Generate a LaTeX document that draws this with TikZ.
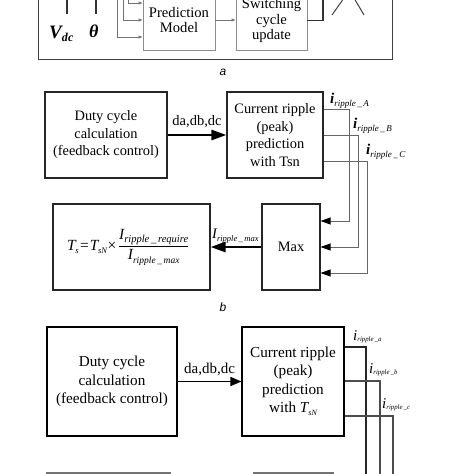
\documentclass[tikz,border=0pt]{standalone}
\usepackage{fontspec}
\setmainfont{Liberation Serif}
\newfontfamily\sflab{Liberation Sans}
\usetikzlibrary{arrows.meta,calc}
\newcommand{\iripB}[1]{{\bfseries\itshape i}\raisebox{-0.45ex}{\fontsize{9}{9}\selectfont\itshape ripple\,\_\,#1}}
\newcommand{\iripC}[1]{{\itshape i}\raisebox{-0.25ex}{\fontsize{6.8}{7}\selectfont\itshape ripple\,\_#1}}
\newcommand{\Irip}[2]{{\itshape I}\raisebox{-0.5ex}{\fontsize{#2}{#2}\selectfont\itshape ripple\,\_\,#1}}
\begin{document}
\begin{tikzpicture}[x=1pt,y=-1pt,
  boxa/.style={draw=black!45,line width=0.9pt,inner sep=0pt,align=center,font=\fontsize{14.6}{15.5}\selectfont},
  boxb/.style={draw=black!85,line width=1.1pt,inner sep=0pt,align=center,font=\fontsize{14.4}{17.5}\selectfont},
  boxc/.style={draw=black,line width=1.1pt,inner sep=0pt,align=center,font=\fontsize{15.2}{18.3}\selectfont},
  boxd/.style={draw=black!55,line width=1.4pt,inner sep=0pt},
  linea/.style={draw=black!55,line width=0.9pt},
  lineadark/.style={draw=black!80,line width=1.2pt},
  arra/.style={linea,-{Triangle[length=4pt,width=3pt]}},
  sigb/.style={draw=black!60,line width=0.9pt},
  arrb/.style={sigb,-{Triangle[length=10pt,width=7pt,color=black]}},
  thickb/.style={draw=black,line width=2.6pt,-{Triangle[length=15pt,width=10pt]}},
  sigc/.style={draw=black!85,line width=1.1pt},
  arrc/.style={draw=black,line width=1.6pt,-{Triangle[length=11pt,width=9pt]}},
  lbl/.style={inner sep=0pt,font=\fontsize{14.5}{16}\selectfont},
  figcap/.style={inner sep=0pt,font=\sflab\itshape\fontsize{12}{14}\selectfont}
]
\useasboundingbox (0,0) rectangle (474,474);
\clip (0,0) rectangle (474,474);

% ---------- part a ----------
\node[draw=black!75,line width=1pt,minimum width=354,minimum height=69,inner sep=0pt] (outa) at (215,24.5) {};
\node[boxa,minimum width=72,minimum height=60] (pm) at (179,20) {Prediction\\Model};
\node[boxa,minimum width=71,minimum height=60] (scu) at (271.5,20.5) {Switching\\cycle\\update};
\draw[arra] (pm.east) -- (scu.west |- pm.east);
\coordinate (so) at (323,-10);
\draw[lineadark] (scu.east) -| (so);
\coordinate (ia) at (117,-10);
\coordinate (ib) at (123,-10);
\coordinate (ic) at (128,-10);
\draw[arra] (ia) |- (pm.west |- 0,37);
\draw[arra] (ib) |- (pm.west |- 0,20);
\draw[arra] (ic) |- (pm.west |- 0,3);
\coordinate (va) at (67,-10);
\coordinate (vb) at (67,14);
\coordinate (ta) at (96,-10);
\coordinate (tb) at (96,14);
\draw[lineadark] (va) -- (vb);
\draw[lineadark] (ta) -- (tb);
\node[inner sep=0pt,anchor=base west] (vdc) at (49,38) {\fontsize{19}{20}\selectfont\bfseries\itshape V\raisebox{-0.35ex}{\fontsize{12}{12}\selectfont d\kern0.3pt c}};
\node[inner sep=0pt,anchor=base west] (th) at (89,37) {\fontsize{18}{20}\selectfont\bfseries\itshape θ};
\coordinate (l1) at (332,15);
\coordinate (l2) at (344,-2);
\coordinate (r1) at (354,-2);
\coordinate (r2) at (364,15);
\draw[black!75,line width=1pt] (l1) -- (l2);
\draw[black!75,line width=1pt] (r1) -- (r2);
\node[figcap] (capa) at (223,72) {a};

% ---------- part b ----------
\node[boxb,minimum width=122,minimum height=86] (dcb) at (106,135) {Duty cycle\\calculation\\(feedback control)};
\node[boxb,minimum width=96,minimum height=86] (crb) at (275,135) {Current ripple\\(peak)\\prediction\\with Tsn};
\node[boxb,minimum width=157,minimum height=86] (fb) at (131.5,247) {};
\node[boxb,minimum width=58,minimum height=86] (maxb) at (291,247) {Max};
\draw[thickb] (dcb.east) -- (crb.west);
\node[lbl] (ddb) at (197,122) {da,db,dc};
\coordinate (bA) at (349,221);
\coordinate (bB) at (358,247);
\coordinate (bC) at (367,273);
\draw[arrb] (crb.east |- 0,109) -| (bA) -- (maxb.east |- bA);
\draw[arrb] (crb.east |- 0,135) -| (bB) -- (maxb.east |- bB);
\draw[arrb] (crb.east |- 0,161) -| (bC) -- (maxb.east |- bC);
\node[inner sep=0pt,anchor=base west,font=\fontsize{15}{16}\selectfont] (lbA) at (330,103) {\iripB{A}};
\node[inner sep=0pt,anchor=base west,font=\fontsize{15}{16}\selectfont] (lbB) at (353,128) {\iripB{B}};
\node[inner sep=0pt,anchor=base west,font=\fontsize{15}{16}\selectfont] (lbC) at (366,154) {\iripB{C}};
\draw[thickb] (maxb.west) -- (fb.east);
\node[inner sep=0pt,anchor=base west,font=\fontsize{14.5}{16}\selectfont] (lmax) at (212,238) {\Irip{max}{8.5}};
\node[inner sep=0pt,anchor=base west,font=\fontsize{15.5}{17}\selectfont] (fml) at (67,250)
  {\itshape T\kern-0.5pt\raisebox{-0.5ex}{\fontsize{8.5}{9}\selectfont s}\kern1.5pt{\upshape =}\kern1pt T\kern-0.3pt\raisebox{-0.5ex}{\fontsize{8.5}{9}\selectfont sN}\kern0.5pt{\upshape ×}\kern1.5pt
   $\displaystyle\frac{\hbox{\fontsize{15.5}{17}\selectfont\Irip{require}{10.5}}}{\hbox{\fontsize{15.5}{17}\selectfont\Irip{max}{9.5}}}$};
\node[figcap] (capb) at (223,307) {b};

% ---------- part c ----------
\node[boxc,minimum width=130,minimum height=109] (dcc) at (112,381.5) {Duty cycle\\calculation\\(feedback control)};
\node[boxc,minimum width=102,minimum height=109] (crc) at (293,381.5) {Current ripple\\(peak)\\prediction\\with {\itshape T\raisebox{-0.5ex}{\fontsize{8}{8}\selectfont sN}}};
\draw[arrc] (dcc.east) -- (crc.west);
\node[lbl,font=\fontsize{15}{16}\selectfont] (ddc) at (209.5,369) {da,db,dc};
\coordinate (ca) at (366,480);
\coordinate (cb) at (380,480);
\coordinate (cc) at (393,480);
\draw[sigc] (crc.east |- 0,347) -| (ca);
\draw[sigc,draw=black!70] (crc.east |- 0,381) -| (cb);
\draw[sigc,draw=black!70] (crc.east |- 0,416) -| (cc);
\node[inner sep=0pt,anchor=base west,font=\fontsize{15}{16}\selectfont] (lca) at (353,340) {\iripC{a}};
\node[inner sep=0pt,anchor=base west,font=\fontsize{15}{16}\selectfont] (lcb) at (369,373) {\iripC{b}};
\node[inner sep=0pt,anchor=base west,font=\fontsize{15}{16}\selectfont] (lcc) at (382,408) {\iripC{c}};
\node[boxd,minimum width=123,minimum height=54] (bl) at (108.5,500) {};
\node[boxd,minimum width=79,minimum height=54] (br) at (293.5,500) {};
\end{tikzpicture}
\end{document}
